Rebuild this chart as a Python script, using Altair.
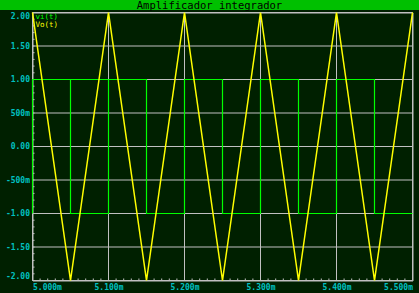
import json
import altair as alt
import pandas as pd

# ---------------- data ----------------
title_text = "Amplificador integrador"
legend_names = ["vi(t)", "Vo(t)"]

# Vo(t): triangle wave vertices (time in ms, volts)
vo_t = [5.00, 5.05, 5.10, 5.15, 5.20, 5.25, 5.30, 5.35, 5.40, 5.45, 5.50]
vo_v = [2.00, -2.00, 2.00, -2.00, 2.00, -2.00, 2.00, -2.00, 2.00, -2.00, 2.00]

# vi(t): square-wave trace vertices, in the order the trace is drawn
vi_t = [5.00, 5.00, 5.05, 5.05, 5.10, 5.10, 5.05, 5.15, 5.15, 5.20, 5.20, 5.25,
        5.25, 5.30, 5.30, 5.35, 5.35, 5.40, 5.40, 5.45, 5.45, 5.50]
vi_v = [-1.0, 1.0, 1.0, -1.0, -1.0, 1.0, 1.0, 1.0, -1.0, -1.0, 1.0, 1.0,
        -1.0, -1.0, 1.0, 1.0, -1.0, -1.0, 1.0, 1.0, -1.0, -1.0]

x_ticks = [5.0, 5.1, 5.2, 5.3, 5.4, 5.5]
x_labels = ["5.000m", "5.100m", "5.200m", "5.300m", "5.400m", "5.500m"]
y_ticks = [2.0, 1.5, 1.0, 0.5, 0.0, -0.5, -1.0, -1.5, -2.0]
y_labels = ["2.00", "1.50", "1.00", "500m", "0.00", "-500m", "-1.00", "-1.50", "-2.00"]
x_minor = [round(5.0 + i * 0.01, 2) for i in range(51)]
y_minor = [round(-2.0 + i * 0.1, 1) for i in range(41)]

# ---------------- style ----------------
BG = "#002000"
BAR = "#00c000"
GRID = "#c0c0c0"
LAB = "#00c0c0"
GREEN = "#00ff00"
YELLOW = "#ffff00"
W, H = 380, 268
MONO = "DejaVu Sans Mono"

xs = alt.Scale(domain=[5.0, 5.5], nice=False, zero=False)
ys = alt.Scale(domain=[-2.0, 2.0], nice=False, zero=False)


def expr(vals, labs):
    return f"{json.dumps(labs)}[indexof({json.dumps(vals)}, datum.value)]"


x_axis = alt.Axis(values=x_ticks, labelExpr=expr(x_ticks, x_labels), grid=False,
                  domain=False, ticks=False, labelColor=LAB, labelFont=MONO,
                  labelFontSize=8, labelFontWeight="bold", labelPadding=3,
                  labelFlush=True, title=None)
y_axis = alt.Axis(values=y_ticks, labelExpr=expr(y_ticks, y_labels), grid=False,
                  domain=False, ticks=False, labelColor=LAB, labelFont=MONO,
                  labelFontSize=8, labelFontWeight="bold", labelPadding=3,
                  labelFlush=True, title=None)


def X(f):
    return alt.X(f, scale=xs, axis=x_axis, title=None)


def Y(f):
    return alt.Y(f, scale=ys, axis=y_axis, title=None)


vo_df = pd.DataFrame({"t": vo_t, "v": vo_v})
vi_df = pd.DataFrame({"t": vi_t, "v": vi_v, "i": list(range(len(vi_t)))})

# grid lines (drawn first, so the traces sit on top)
xgrid = alt.Chart(pd.DataFrame({"t": x_ticks})).mark_rule(color=GRID, strokeWidth=1).encode(
    x=X("t:Q"), y=alt.value(0), y2=alt.value(H),
)
ygrid = alt.Chart(pd.DataFrame({"v": y_ticks})).mark_rule(color=GRID, strokeWidth=1).encode(
    y=Y("v:Q"), x=alt.value(0), x2=alt.value(W),
)

xminor = alt.Chart(pd.DataFrame({"t": x_minor})).mark_rule(color=GRID, strokeWidth=1).encode(
    x=X("t:Q"), y=alt.value(H), y2=alt.value(H - 2),
)
yminor = alt.Chart(pd.DataFrame({"v": y_minor})).mark_rule(color=GRID, strokeWidth=1).encode(
    y=Y("v:Q"), x=alt.value(0), x2=alt.value(2),
)

vi = alt.Chart(vi_df).mark_line(color=GREEN, strokeWidth=1.2, strokeJoin="miter").encode(
    x=X("t:Q"), y=Y("v:Q"), order=alt.Order("i:Q"),
)

vo = alt.Chart(vo_df).mark_line(color=YELLOW, strokeWidth=1.5).encode(
    x=X("t:Q"), y=Y("v:Q"),
)

one = pd.DataFrame({"s": [title_text]})
bar = alt.Chart(one).mark_rect(color=BAR).encode(
    x=alt.value(-33), x2=alt.value(W + 7), y=alt.value(-13), y2=alt.value(-2.5),
)
ttl = alt.Chart(one).mark_text(color="#000000", font=MONO, fontSize=10.5,
                               align="center", baseline="alphabetic").encode(
    text="s:N", x=alt.value(177), y=alt.value(-3.5),
)

leg1 = alt.Chart(pd.DataFrame({"s": legend_names[:1]})).mark_text(
    color=GREEN, font=MONO, fontSize=7.5, align="left", baseline="middle").encode(
    text="s:N", x=alt.value(3), y=alt.value(4),
)
leg2 = alt.Chart(pd.DataFrame({"s": legend_names[1:]})).mark_text(
    color=YELLOW, font=MONO, fontSize=7.5, align="left", baseline="middle").encode(
    text="s:N", x=alt.value(3), y=alt.value(12),
)

chart = alt.layer(xgrid, ygrid, xminor, yminor, vi, vo, bar, ttl, leg1, leg2).properties(
    width=W, height=H,
    background=BG,
    padding={"left": 32.5, "top": 12.5, "right": 6.5, "bottom": 12.5},
    autosize=alt.AutoSizeParams(type="none"),
).configure_view(stroke=GRID, strokeWidth=1, fill=BG)

chart.save("out.html", embed_options={"renderer": "svg", "actions": False})
